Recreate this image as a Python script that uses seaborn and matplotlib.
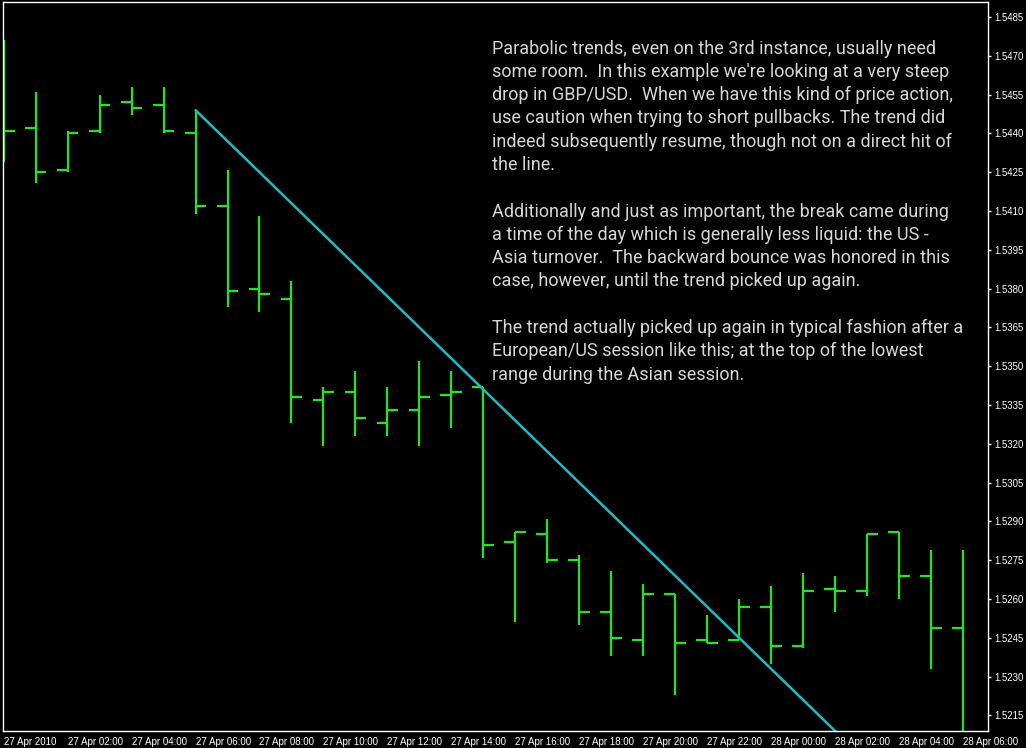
import numpy as np
import pandas as pd
import seaborn as sns
import matplotlib.pyplot as plt

# GBP/USD hourly bars, 27 Apr 2010 00:00 .. 28 Apr 06:00
times = ["27 Apr 2010"] + ["27 Apr %02d:00" % h for h in range(1, 24)] + \
        ["28 Apr %02d:00" % h for h in range(0, 7)]
opens = [1.5441, 1.5442, 1.5426, 1.5441, 1.5452, 1.5451, 1.5440, 1.5412,
         1.5380, 1.5376, 1.5337, 1.5340, 1.5328, 1.5333, 1.5339, 1.5342,
         1.5282, 1.5285, 1.5275, 1.5255, 1.5244, 1.5262, 1.5244, 1.5244,
         1.5257, 1.5242, 1.5264, 1.5263, 1.5286, 1.5269, 1.5249]
highs = [1.5476, 1.5456, 1.5441, 1.5455, 1.5458, 1.5458, 1.5449, 1.5426,
         1.5408, 1.5383, 1.5342, 1.5348, 1.5342, 1.5352, 1.5348, 1.5342,
         1.5286, 1.5291, 1.5277, 1.5271, 1.5266, 1.5262, 1.5254, 1.5260,
         1.5265, 1.5270, 1.5269, 1.5285, 1.5286, 1.5279, 1.5279]
lows = [1.5429, 1.5421, 1.5425, 1.5440, 1.5447, 1.5440, 1.5409, 1.5373,
        1.5371, 1.5328, 1.5319, 1.5323, 1.5323, 1.5319, 1.5326, 1.5276,
        1.5251, 1.5274, 1.5250, 1.5238, 1.5238, 1.5223, 1.5243, 1.5244,
        1.5235, 1.5241, 1.5255, 1.5261, 1.5260, 1.5233, 1.5205]
closes = [1.5441, 1.5425, 1.5440, 1.5451, 1.5450, 1.5441, 1.5412, 1.5379,
          1.5378, 1.5338, 1.5340, 1.5330, 1.5333, 1.5338, 1.5340, 1.5281,
          1.5286, 1.5275, 1.5255, 1.5245, 1.5262, 1.5243, 1.5243, 1.5257,
          1.5242, 1.5263, 1.5263, 1.5285, 1.5269, 1.5249, 1.5207]

# trend line anchors (bar index, price)
trend_x = [6, 26]
trend_y = [1.5449, 1.5209]

price_ticks = np.round(np.arange(1.5215, 1.54851, 0.0015), 4)

note = [
    "Parabolic trends, even on the 3rd instance, usually need",
    "some room.  In this example we're looking at a very steep",
    "drop in GBP/USD.  When we have this kind of price action,",
    "use caution when trying to short pullbacks. The trend did",
    "indeed subsequently resume, though not on a direct hit of",
    "the line.",
    "",
    "Additionally and just as important, the break came during",
    "a time of the day which is generally less liquid: the US -",
    "Asia turnover.  The backward bounce was honored in this",
    "case, however, until the trend picked up again.",
    "",
    "The trend actually picked up again in typical fashion after a",
    "European/US session like this; at the top of the lowest",
    "range during the Asian session.",
]

df = pd.DataFrame({"t": times, "open": opens, "high": highs, "low": lows, "close": closes})
df["i"] = np.arange(len(df))

sns.set_style("dark", {"axes.facecolor": "black", "figure.facecolor": "black",
                       "axes.edgecolor": "white", "xtick.color": "white",
                       "ytick.color": "white", "text.color": "white"})
plt.rcParams["font.family"] = ["Liberation Sans", "DejaVu Sans"]

W, H = 1026, 748
fig = plt.figure(figsize=(W / 100, H / 100), dpi=100)
ax = fig.add_axes([3 / W, 17 / H, 985 / W, 729 / H])

green = "#1fe61f"
lw = 1.6
tick_len = 0.34
ax.vlines(df["i"], df["low"], df["high"], color=green, lw=lw)
ax.hlines(df["open"], df["i"] - tick_len, df["i"], color=green, lw=lw)
ax.hlines(df["close"], df["i"], df["i"] + tick_len, color=green, lw=lw)

sns.lineplot(x=trend_x, y=trend_y, ax=ax, color="#1fbcc6", lw=1.8)

ax.set_xlim(-0.02, 30.78)
ax.set_ylim(1.52090, 1.54908)
ax.grid(False)
for s in ax.spines.values():
    s.set_color("white")
    s.set_linewidth(1)

ax.yaxis.tick_right()
ax.set_yticks(price_ticks)
ax.set_yticklabels(["%.4f" % p for p in price_ticks])
ax.set_xticks(df["i"][::2])
ax.set_xticklabels(df["t"][::2], ha="left")
ax.tick_params(axis="x", length=2.5, width=1, color="white", labelsize=7,
               labelcolor="white", pad=2)
ax.tick_params(axis="y", length=2.5, width=1, color="white", labelsize=6.9,
               labelcolor="white", pad=2)
ax.set_xlabel("")
ax.set_ylabel("")

# annotation block
for k, line in enumerate(note):
    if not line:
        continue
    base = 53.5 + 23.3 * k
    fig.text(492 / W, 1 - base / H, line, color="#d6d6d6", fontsize=13.0,
             family=["Roboto", "DejaVu Sans"], va="baseline", ha="left")

fig.savefig("out.png", dpi=100, facecolor="black")
